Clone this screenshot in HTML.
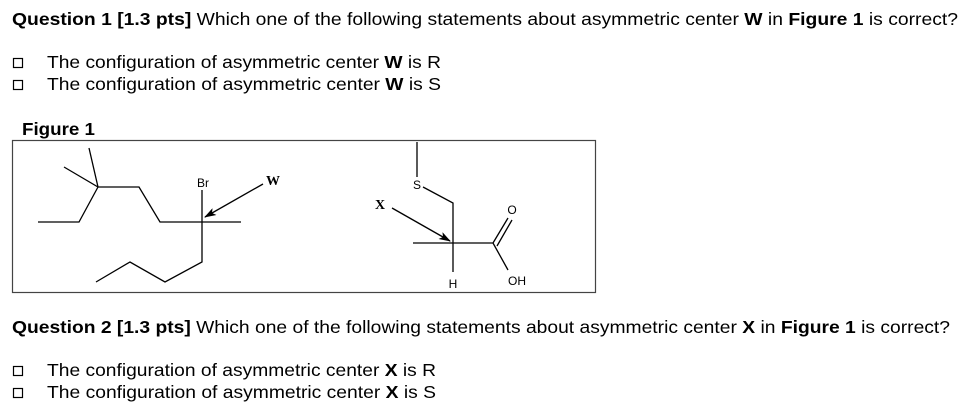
<!DOCTYPE html>
<html><head><meta charset="utf-8"><style>
html,body{margin:0;padding:0;background:#fff;}
svg{display:block;}
text{font-family:"Liberation Sans",Arial,sans-serif;fill:#000;}
</style></head><body>
<svg width="975" height="416" viewBox="0 0 975 416" xmlns="http://www.w3.org/2000/svg">
<defs>
<marker id="ah" markerWidth="12" markerHeight="8" refX="11" refY="4" orient="auto" markerUnits="userSpaceOnUse">
<path d="M0,0 L12,4 L0,8 L3,4 Z" fill="#000"/>
</marker>
</defs>
<text x="12" y="25" font-size="17.5" textLength="946" lengthAdjust="spacingAndGlyphs"><tspan font-weight="bold">Question 1 [1.3 pts]</tspan> Which one of the following statements about asymmetric center <tspan font-weight="bold">W</tspan> in <tspan font-weight="bold">Figure 1</tspan> is correct?</text>
<rect x="13.5" y="58.5" width="9" height="9" fill="none" stroke="#000" stroke-width="1.2"/>
<text x="47" y="68" font-size="17.5" textLength="394" lengthAdjust="spacingAndGlyphs">The configuration of asymmetric center <tspan font-weight="bold">W</tspan> is R</text>
<rect x="13.5" y="80.5" width="9" height="9" fill="none" stroke="#000" stroke-width="1.2"/>
<text x="47" y="90" font-size="17.5" textLength="394" lengthAdjust="spacingAndGlyphs">The configuration of asymmetric center <tspan font-weight="bold">W</tspan> is S</text>
<text x="22" y="135" font-size="17.5" font-weight="bold" textLength="73" lengthAdjust="spacingAndGlyphs">Figure 1</text>
<rect x="12.5" y="140.5" width="583" height="152" fill="none" stroke="#444" stroke-width="1.2"/>
<g stroke="#000" stroke-width="1.3" fill="none">
<path d="M89,148 L98,187 M64,167 L98,187 L139,187 L160,222 L241,222 M98,187 L79,222 L38,222 M202,190 L202,262 L165,282 L130,262 L96,282"/>
<path d="M417,142 L417,177 M423,187 L453,203 L453,243 M413,243 L493,243 M453,243 L453,272 M493,243 L508,218 M497,246 L512,220 M493,243 L508,270"/>
<line x1="263" y1="184" x2="205" y2="217" marker-end="url(#ah)"/>
<line x1="392" y1="208" x2="450" y2="241" marker-end="url(#ah)"/>
</g>
<text x="203" y="187" font-size="12" text-anchor="middle">Br</text>
<text x="273" y="185" font-size="14" font-weight="bold" text-anchor="middle" style="font-family:'Liberation Serif',serif">W</text>
<text x="380" y="209" font-size="14" font-weight="bold" text-anchor="middle" style="font-family:'Liberation Serif',serif">X</text>
<text x="417" y="189" font-size="12" text-anchor="middle">S</text>
<text x="453" y="288" font-size="12" text-anchor="middle">H</text>
<text x="512" y="214" font-size="12" text-anchor="middle">O</text>
<text x="517" y="285" font-size="12" text-anchor="middle">OH</text>
<text x="12" y="333" font-size="17.5" textLength="938" lengthAdjust="spacingAndGlyphs"><tspan font-weight="bold">Question 2 [1.3 pts]</tspan> Which one of the following statements about asymmetric center <tspan font-weight="bold">X</tspan> in <tspan font-weight="bold">Figure 1</tspan> is correct?</text>
<rect x="13.5" y="366.5" width="9" height="9" fill="none" stroke="#000" stroke-width="1.2"/>
<text x="47" y="376" font-size="17.5" textLength="389" lengthAdjust="spacingAndGlyphs">The configuration of asymmetric center <tspan font-weight="bold">X</tspan> is R</text>
<rect x="13.5" y="388.5" width="9" height="9" fill="none" stroke="#000" stroke-width="1.2"/>
<text x="47" y="398" font-size="17.5" textLength="389" lengthAdjust="spacingAndGlyphs">The configuration of asymmetric center <tspan font-weight="bold">X</tspan> is S</text>
</svg>
</body></html>
